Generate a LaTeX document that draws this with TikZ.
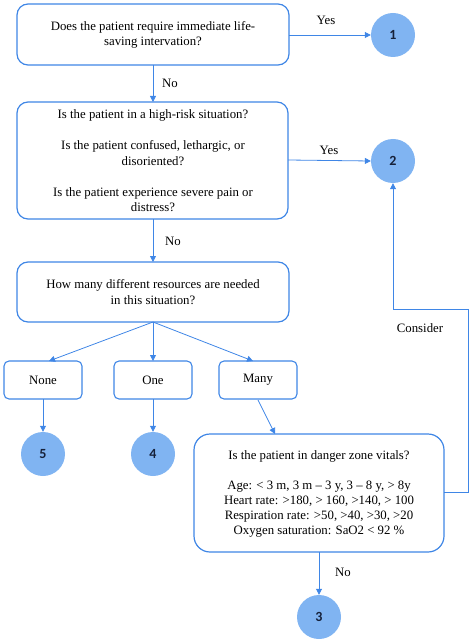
\documentclass[tikz,border=0pt]{standalone}
\usepackage{fontspec}
\setmainfont{Liberation Serif}
\newfontfamily\numfont{Carlito}
\usetikzlibrary{arrows.meta}
\definecolor{edgeblue}{HTML}{3F86E6}
\definecolor{fillblue}{HTML}{80B4F2}
\definecolor{numcol}{HTML}{16213A}
\tikzset{
  qbox/.style={draw=edgeblue, line width=1.2pt, rounded corners=11pt, fill=white},
  sbox/.style={draw=edgeblue, line width=1.1pt, rounded corners=5pt, fill=white},
  qtext/.style={align=center, font=\fontsize{12.8}{15.5}\selectfont, inner sep=0pt},
  endpt/.style={circle, fill=fillblue, minimum size=44pt, inner sep=0pt, font=\numfont\bfseries\fontsize{14}{14}\selectfont, text=numcol},
  conn/.style={draw=edgeblue, line width=0.8pt, -{Triangle[width=6pt,length=6pt]}},
  lbl/.style={font=\fontsize{12.8}{14}\selectfont, inner sep=0pt}
}
\begin{document}
\begin{tikzpicture}[x=1pt,y=1pt]
\useasboundingbox (0,0) rectangle (474,-644);
% boxes
\draw[qbox] (17,-4) rectangle (289,-65);
\node[qtext] (q1) at (153,-35) {Does the patient require immediate life-\\saving intervation?};
\coordinate (q1r) at (289,-35);
\coordinate (q1b) at (153,-65);

\draw[qbox] (17,-102) rectangle (288,-219);
\node[qtext] (q2) at (153,-161) {Is the patient in a high-risk situation?\\[15.5pt]Is the patient confused, lethargic, or\\disoriented?\\[15.5pt]Is the patient experience severe pain or\\distress?};
\coordinate (q2t) at (153,-102);
\coordinate (q2r) at (288,-160);
\coordinate (q2b) at (153,-219);

\draw[qbox] (17,-262) rectangle (289,-322);
\node[qtext] (q3) at (153,-292) {How many different resources are needed\\in this situation?};
\coordinate (q3t) at (153,-262);
\coordinate (q3b) at (153,-322);

\draw[sbox] (4,-361) rectangle (82,-399);
\node[lbl] (none) at (43,-380) {None};
\coordinate (noneT) at (49,-361);
\coordinate (noneB) at (43,-399);
\draw[sbox] (114,-361) rectangle (192,-399);
\node[lbl] (one) at (153,-380) {One};
\coordinate (oneT) at (153,-361);
\coordinate (oneB) at (153,-399);
\draw[sbox] (219,-361) rectangle (297,-399);
\node[lbl] (many) at (258,-380) {Many};
\coordinate (manyT) at (253,-361);
\coordinate (manyB) at (258,-400);

\draw[qbox, rounded corners=16pt] (194,-434) rectangle (444,-552);
\node[qtext, font=\fontsize{12.8}{15}\selectfont] (q4) at (319,-494) {Is the patient in danger zone vitals?\\[15pt]Age: {\char"003C} 3 m, 3 m -- 3 y, 3 -- 8 y, {\char"003E} 8y\\Heart rate: {\char"003E}180, {\char"003E} 160, {\char"003E}140, {\char"003E} 100\\Respiration rate: {\char"003E}50, {\char"003E}40, {\char"003E}30, {\char"003E}20\\Oxygen saturation: SaO2 {\char"003C} 92 \%};
\coordinate (q4t) at (275,-434);
\coordinate (q4r) at (444,-492);
\coordinate (q4b) at (319,-552);

% end points
\node[endpt] (e1) at (393,-35) {1};
\node[endpt] (e2) at (393,-161) {2};
\node[endpt] (e5) at (43,-454) {5};
\node[endpt] (e4) at (153,-454) {4};
\node[endpt] (e3) at (319,-617) {3};

% connectors
\draw[conn] (q1r) -- (e1.west);
\node[lbl] at (326,-20) {Yes};
\draw[conn] (q1b) -- (q2t);
\node[lbl] at (170,-83) {No};
\draw[conn] (q2r) -- (e2.west);
\node[lbl] at (329,-150) {Yes};
\draw[conn] (q2b) -- (q3t);
\node[lbl] at (173,-241) {No};
\draw[conn] (q3b) -- (noneT);
\draw[conn] (q3b) -- (oneT);
\draw[conn] (q3b) -- (manyT);
\draw[conn] (noneB) -- (e5.north);
\draw[conn] (oneB) -- (e4.north);
\draw[conn] (manyB) -- (q4t);
\draw[conn] (q4b) -- (e3.north);
\node[lbl] at (343,-572) {No};
\coordinate (c1) at (468,-492);
\coordinate (c2) at (468,-309);
\coordinate (c3) at (393,-309);
\draw[conn] (q4r) -- (c1) -- (c2) -- (c3) -- (e2.south);
\node[lbl] at (420,-328) {Consider};
\end{tikzpicture}
\end{document}
